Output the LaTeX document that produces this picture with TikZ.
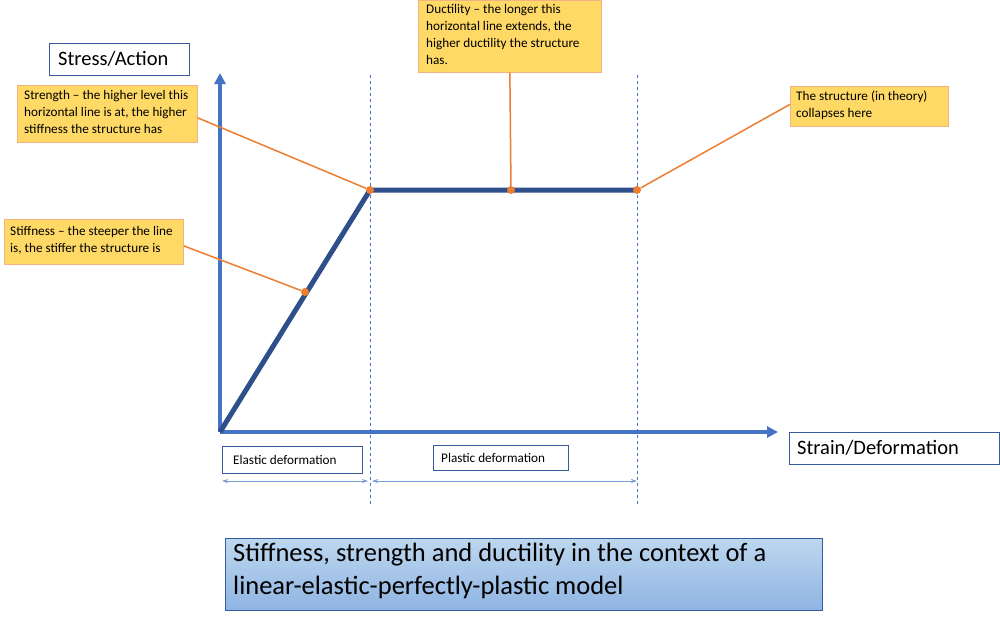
\documentclass[tikz,border=0pt]{standalone}
\usepackage{fontspec}
\setmainfont{Carlito}
\usetikzlibrary{arrows.meta}
\definecolor{axisblue}{HTML}{4472C4}
\definecolor{darkline}{HTML}{2F4F8A}
\definecolor{callfill}{HTML}{FFD966}
\definecolor{callbord}{HTML}{F4B183}
\definecolor{orangel}{HTML}{ED7D31}
\definecolor{ttop}{HTML}{BDD7EE}
\definecolor{tbot}{HTML}{8FB4E3}
\begin{document}
\begin{tikzpicture}[x=1pt,y=-1pt,
 whitebox/.style={draw=axisblue!80!black,line width=0.9pt,fill=white,anchor=north west,inner sep=0pt},
 callout/.style={draw=callbord,fill=callfill,line width=0.7pt,anchor=north west,inner sep=0pt},
 ctext/.style={anchor=north west,align=left,inner sep=0pt,font=\fontsize{13.2}{17}\selectfont},
 conn/.style={orangel,line width=1.5pt},
 dot/.style={circle,fill=orangel,inner sep=0pt,minimum size=8pt},
 dim/.style={axisblue!70,line width=0.7pt,{Stealth[length=6pt,width=4pt]}-{Stealth[length=6pt,width=4pt]}}]
\useasboundingbox (0,0) rectangle (1000,622);
% axes
\coordinate (O) at (220,432);
\coordinate (ytop) at (220,73);
\coordinate (xend) at (778,432);
\draw[axisblue,line width=3.2pt,-{Triangle[length=11pt,width=11pt]}] (O) -- (ytop);
\draw[axisblue,line width=3.2pt,-{Triangle[length=11pt,width=11pt]}] (O) -- (xend);
% dashed
\coordinate (d1t) at (370,75); \coordinate (d1b) at (370,505);
\coordinate (d2t) at (637,75); \coordinate (d2b) at (637,505);
\draw[axisblue,dashed,line width=0.8pt] (d1t) -- (d1b);
\draw[axisblue,dashed,line width=0.8pt] (d2t) -- (d2b);
% curve
\coordinate (Y) at (370,190);
\coordinate (C) at (637,190);
\draw[darkline,line width=5pt,line join=round] (O) -- (Y) -- (C);
\node[dot] (yield) at (Y) {};
\node[dot] (coll) at (C) {};
\node[dot] (mid) at (511,190) {};
\node[dot] (stiff) at (305,292) {};
% labels
\node[whitebox,minimum width=140pt,minimum height=32pt] (sa) at (49,43) {};
\node[font=\fontsize{20.5}{22}\selectfont,anchor=west,inner sep=0pt] at (58,59) {Stress/Action};
\node[whitebox,minimum width=210pt,minimum height=32pt] (sd) at (789,432) {};
\node[font=\fontsize{20.5}{22}\selectfont,anchor=west,inner sep=0pt] at (797,448) {Strain/Deformation};
\node[whitebox,minimum width=140pt,minimum height=27pt] (el) at (222,446) {};
\node[font=\fontsize{13.2}{15}\selectfont,anchor=west,inner sep=0pt] at (233,460) {Elastic deformation};
\node[whitebox,minimum width=135pt,minimum height=25pt] (pl) at (433,445) {};
\node[font=\fontsize{13.2}{15}\selectfont,anchor=west,inner sep=0pt] at (441,458) {Plastic deformation};
\coordinate (a1) at (222,481); \coordinate (a2) at (368,481);
\coordinate (a3) at (372,481); \coordinate (a4) at (637,481);
\draw[dim] (a1) -- (a2);
\draw[dim] (a3) -- (a4);
% callouts
\node[callout,minimum width=180pt,minimum height=57pt] (cs) at (17,85) {};
\node[ctext] at (24,90) {Strength -- the higher level this\\horizontal line is at, the higher\\stiffness the structure has};
\node[callout,minimum width=179pt,minimum height=45pt] (ct) at (4,219) {};
\node[ctext] at (10,226) {Stiffness -- the steeper the line\\is, the stiffer the structure is};
\node[callout,minimum width=183pt,minimum height=72pt] (cd) at (418,0) {};
\node[ctext] at (426,4) {Ductility -- the longer this\\horizontal line extends, the\\higher ductility the structure\\has.};
\node[callout,minimum width=158pt,minimum height=40pt] (cc) at (790,86) {};
\node[ctext] at (796,91) {The structure (in theory)\\collapses here};
\draw[conn] (cs.east) ++(0,4) -- (yield);
\draw[conn] (ct.east) ++(0,4) -- (stiff);
\draw[conn] (cd.south) -- (mid);
\draw[conn] (cc.west) ++(0,-2) -- (coll);
% title
\node[draw=axisblue!80!black,line width=0.9pt,top color=ttop,bottom color=tbot,anchor=north west,minimum width=597pt,minimum height=72pt,inner sep=0pt] (tb) at (225,538) {};
\node[anchor=north west,align=left,inner sep=0pt,font=\fontsize{26.5}{33}\selectfont] at (233,543) {Stiffness, strength and ductility in the context of a\\linear-elastic-perfectly-plastic model};
\end{tikzpicture}
\end{document}
